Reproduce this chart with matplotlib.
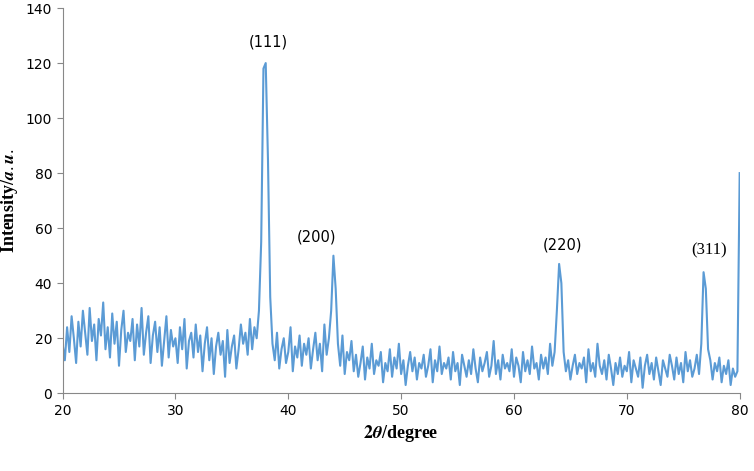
import matplotlib.pyplot as plt
import numpy as np

plt.rcParams["mathtext.fontset"] = "stix"

two_theta = np.round(np.arange(20.0, 80.01, 0.2), 1)
intensity = [
    18, 12, 24, 15, 28, 20, 11, 26, 17, 30,
    22, 14, 31, 19, 25, 12, 27, 21, 33, 16,
    24, 13, 29, 18, 26, 10, 23, 30, 15, 22,
    19, 27, 12, 25, 17, 31, 14, 22, 28, 11,
    21, 26, 15, 24, 10, 19, 28, 13, 23, 17,
    20, 11, 24, 16, 27, 9, 19, 22, 13, 25,
    15, 21, 8, 18, 24, 12, 20, 7, 17, 22,
    14, 19, 6, 23, 11, 17, 21, 9, 16, 25,
    18, 22, 14, 27, 16, 24, 20, 30, 55, 118,
    120, 85, 35, 18, 12, 22, 9, 16, 20, 11,
    15, 24, 8, 17, 13, 21, 10, 18, 14, 20,
    9, 16, 22, 12, 18, 8, 25, 14, 20, 30,
    50, 38, 18, 10, 21, 7, 15, 12, 19, 8,
    14, 6, 11, 17, 5, 13, 9, 18, 7, 12,
    10, 15, 4, 11, 8, 16, 6, 13, 9, 18,
    7, 12, 3, 10, 15, 8, 13, 5, 11, 9,
    14, 6, 10, 16, 4, 12, 8, 17, 7, 11,
    9, 13, 5, 15, 8, 11, 3, 14, 10, 6,
    12, 7, 16, 9, 4, 13, 8, 11, 15, 6,
    10, 19, 7, 12, 5, 14, 9, 11, 8, 16,
    6, 13, 10, 4, 15, 8, 12, 7, 17, 9,
    11, 5, 14, 9, 13, 7, 18, 10, 15, 30,
    47, 40, 15, 8, 12, 5, 10, 14, 7, 11,
    9, 13, 4, 16, 8, 11, 6, 18, 10, 7,
    12, 5, 14, 9, 3, 11, 7, 13, 6, 10,
    8, 15, 4, 12, 9, 6, 13, 2, 10, 14,
    7, 11, 5, 13, 8, 3, 12, 9, 6, 14,
    10, 5, 13, 7, 11, 4, 15, 8, 12, 6,
    9, 14, 7, 18, 44, 38, 16, 12, 5, 11,
    8, 13, 4, 10, 7, 12, 3, 9, 6, 8,
    80,
]
peak_labels = ["(111)", "(200)", "(220)", "(311)"]
peak_pos = [38.2, 42.5, 64.3, 77.3]
peak_heights = [125, 54, 51, 49]
peak_fonts = ["DejaVu Sans", "DejaVu Sans", "DejaVu Sans", "Liberation Serif"]
peak_sizes = [10.5, 10.5, 10.5, 12]

fig = plt.figure(figsize=(7.54, 4.71), dpi=100)
ax = fig.add_axes([0.083, 0.165, 0.898, 0.818])
ax.plot(two_theta, intensity, color="#5b9bd5", lw=1.5)

for lab, x, y, fam, fs in zip(peak_labels, peak_pos, peak_heights, peak_fonts, peak_sizes):
    ax.text(x, y, lab, ha="center", va="bottom", fontsize=fs, family=fam)

ax.set_xlim(20, 80)
ax.set_ylim(0, 140)
ax.set_xticks(range(20, 81, 10))
ax.set_yticks(range(0, 141, 20))
ax.tick_params(labelsize=10, color="#888888", length=4)
for s in ["top", "right"]:
    ax.spines[s].set_visible(False)
for s in ["left", "bottom"]:
    ax.spines[s].set_color("#888888")

ax.set_xlabel(r"$\mathbf{2}\boldsymbol{\theta}$/degree", family="Liberation Serif",
              fontsize=13, fontweight="bold")
ax.set_ylabel(r"Intensity/$\boldsymbol{a.u.}$", family="Liberation Serif",
              fontsize=13, fontweight="bold")
fig.savefig("out.png")
